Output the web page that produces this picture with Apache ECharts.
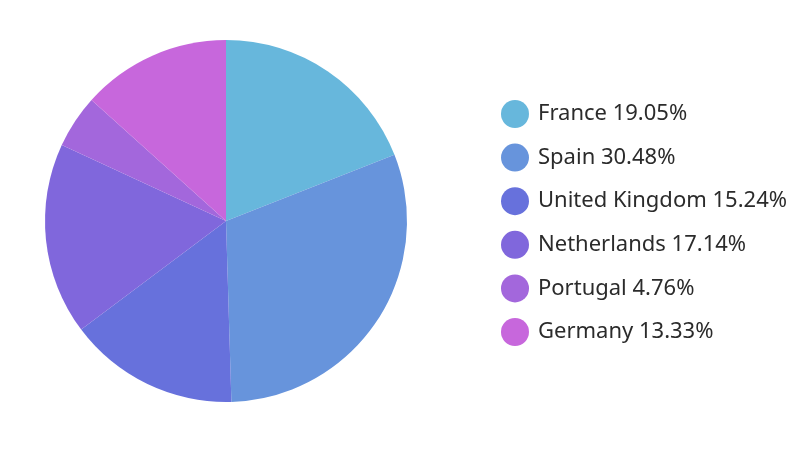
<!DOCTYPE html>
<html>
<head>
<meta charset="utf-8">
<script src="https://cdn.jsdelivr.net/npm/echarts@6/dist/echarts.min.js"></script>
<style>html,body{margin:0;padding:0;background:#fff;}#c{width:801px;height:451px;}</style>
</head>
<body>
<div id="c"></div>
<script>
const categories = ["France", "Spain", "United Kingdom", "Netherlands", "Portugal", "Germany"];
const values = [20, 32, 16, 18, 5, 14];
const colors = ["#67b7dc", "#6794dc", "#6771dc", "#8067dc", "#a367dc", "#c767dc"];

const total = values.reduce((a, b) => a + b, 0);
const pct = {};
categories.forEach((c, i) => { pct[c] = (values[i] / total * 100).toFixed(2); });

const chart = echarts.init(document.getElementById('c'));
chart.setOption({
  animation: false,
  color: colors,
  legend: {
    orient: 'vertical',
    left: 496,
    top: 95,
    icon: 'circle',
    itemWidth: 28,
    itemHeight: 28,
    itemGap: 15.6,
    formatter: name => name + ' ' + pct[name] + '%',
    textStyle: { fontFamily: 'Noto Sans', fontSize: 22, color: '#2b2b2b', padding: [0, 0, 0, 4] }
  },
  series: [{
    type: 'pie',
    center: [226, 221],
    radius: 181,
    startAngle: 90,
    clockwise: true,
    label: { show: false },
    labelLine: { show: false },
    data: categories.map((c, i) => ({ name: c, value: values[i] }))
  }]
});
</script>
</body>
</html>
